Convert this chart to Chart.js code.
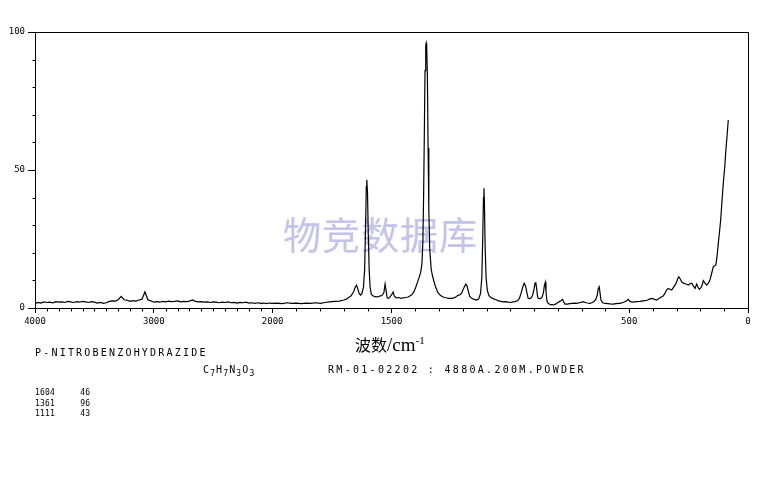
<!DOCTYPE html>
<html>
<head>
<meta charset="utf-8">
<title>P-NITROBENZOHYDRAZIDE Raman</title>
<script src="https://cdn.jsdelivr.net/npm/chart.js@4.4.1/dist/chart.umd.min.js"></script>
<style>
  html, body { margin: 0; padding: 0; background: #fff; }
  #wrap { position: relative; width: 761px; height: 477px; overflow: hidden; }
  #spectrum { position: absolute; left: 0; top: 0; }
  .mono { position: absolute; font-family: "DejaVu Sans Mono", monospace; color: #000; white-space: pre; }
  .watermark { position: absolute; left: 283px; top: 214px; font-family: "Noto Sans CJK SC", sans-serif;
    font-size: 38px; line-height: 38px; color: rgb(196, 196, 234); letter-spacing: 1px; white-space: nowrap; }
  .axis-title { position: absolute; left: 355px; top: 330px; color: #000; white-space: nowrap; line-height: 20px; }
  .axis-title .zh { font-family: "Noto Sans CJK SC", sans-serif; font-size: 16px; }
  .axis-title .en { font-family: "Liberation Serif", serif; font-size: 19px; }
  .axis-title sup { font-family: "Liberation Serif", serif; font-size: 11px; vertical-align: 7px; }
  .sub { font-size: 8px; vertical-align: -3px; letter-spacing: 1px; }
</style>
</head>
<body>
<div id="wrap">
  <div class="watermark">物竞数据库</div>
  <canvas id="spectrum" width="761" height="477"></canvas>
  <div class="axis-title"><span class="zh">波数</span><span class="en">/cm</span><sup>-1</sup></div>
  <div class="mono" style="left:35px; top:348px; font-size:10px; line-height:10px; letter-spacing:2.2px;">P-NITROBENZOHYDRAZIDE</div>
  <div class="mono" style="left:203px; top:365px; font-size:10px; line-height:10px; letter-spacing:1.2px;">C<span class="sub">7</span>H<span class="sub">7</span>N<span class="sub">3</span>O<span class="sub">3</span></div>
  <div class="mono" style="left:328px; top:365px; font-size:10px; line-height:10px; letter-spacing:2.3px;">RM-01-02202 : 4880A.200M.POWDER</div>
  <div class="mono" id="peaks" style="left:35px; top:388px; font-size:8px; line-height:10.5px; letter-spacing:0.2px;"></div>
</div>
<script>
// spectrum, 4000 - 2000 cm-1 (compressed half of the axis)
const highWaveNumbers = [
  4000,3975,3950,3925,3900,3875,3850,3825,3800,3775,
  3750,3725,3700,3675,3650,3625,3600,3575,3550,3525,
  3500,3475,3450,3425,3400,3375,3350,3325,3300,3275,
  3250,3225,3200,3175,3150,3125,3100,3075,3050,3025,
  3000,2975,2950,2925,2900,2875,2850,2825,2800,2775,
  2750,2725,2700,2675,2650,2625,2600,2575,2550,2525,
  2500,2475,2450,2425,2400,2375,2350,2325,2300,2275,
  2250,2225,2200,2175,2150,2125,2100,2075,2050,2025
];
const highIntensity = [
  1.6,2.0,1.8,2.2,2.0,2.1,1.9,2.3,2.1,2.2,
  2.0,2.4,2.2,2.0,2.3,2.1,2.4,2.2,2.0,2.3,
  2.1,1.8,2.0,1.7,1.9,2.4,2.6,2.5,3.0,4.2,
  3.0,2.8,2.4,2.7,2.5,2.9,3.2,5.8,3.0,2.6,
  2.1,2.3,2.1,2.4,2.2,2.5,2.3,2.4,2.6,2.2,
  2.4,2.3,2.5,2.9,2.4,2.2,2.3,2.1,2.2,2.0,
  2.2,2.1,1.9,2.1,2.0,2.2,1.9,2.0,1.8,2.0,
  1.9,2.1,1.8,1.9,1.7,1.9,1.7,1.8,1.6,1.8
];

// 2000 - 1010 cm-1
const midWaveNumbers = [
  2000,1980,1960,1940,1920,1900,1880,1860,1840,1820,
  1800,1780,1760,1740,1720,1700,1690,1680,1670,1660,
  1652,1647,1642,1636,1630,1625,1618,1613,1609,1606,
  1604,1601,1598,1594,1590,1585,1578,1570,1560,1550,
  1540,1532,1527,1523,1518,1512,1505,1498,1493,1488,
  1480,1470,1460,1450,1440,1430,1415,1405,1398,1392,
  1384,1377,1372,1368,1365,1362,1359,1356,1354,1352,
  1349,1346,1343,1339,1333,1327,1321,1314,1306,1295,
  1283,1270,1260,1250,1241,1230,1220,1212,1205,1196,
  1190,1187,1183,1178,1171,1162,1152,1142,1134,1128,
  1125,1120,1116,1113,1111,1109,1106,1102,1097,1090,
  1082,1072,1060,1050,1040,1030,1020,1010
];
const midIntensity = [
  1.7,1.8,1.6,1.9,1.7,1.8,1.6,1.8,1.7,1.9,
  1.7,2.0,2.2,2.4,2.5,2.9,3.2,3.8,4.4,5.8,
  7.6,8.3,7.0,5.2,4.7,5.2,7.5,14,30,44,
  46.5,42,28,14,7.5,5.0,4.4,4.1,4.0,4.3,
  4.5,5.6,8.7,6.5,3.6,3.5,4.2,5.0,5.8,4.3,
  3.7,3.8,3.5,3.7,3.8,4.0,4.8,6.0,7.5,9.0,
  11,13,16,24,40,62,86,95,96,95,
  84,58,36,21,14,11.5,9.5,7.5,5.8,4.6,
  4.0,3.7,3.5,3.5,3.6,4.0,4.6,4.8,5.4,7.2,
  8.3,8.6,8.2,6.5,4.2,3.5,3.1,2.9,3.2,4.5,
  5.5,11,26,40,43.4,38,22,11,6.5,4.5,
  3.8,3.4,3.0,2.6,2.4,2.2,2.3,2.1
];

// 1000 - 83 cm-1
const lowWaveNumbers = [
  1000,990,980,970,962,955,948,942,936,930,
  925,918,912,906,900,896,893,890,886,883,
  877,872,866,861,857,853,850,846,840,830,
  820,810,800,792,786,780,775,770,760,750,
  740,730,720,710,700,693,685,675,665,655,
  647,640,634,630,627,624,619,614,609,600,
  590,580,567,555,545,539,525,511,504,497,
  490,483,470,455,441,425,415,406,396,384,
  375,365,357,350,343,336,328,321,314,307,
  300,295,291,285,279,272,265,258,251,244,
  237,230,223,216,210,205,200,195,188,181,
  174,167,160,153,146,140,135,130,125,120,
  115,110,104,98,93,88,83
];
const lowIntensity = [
  2.0,2.2,2.3,2.6,3.5,5.3,7.5,9.0,8.0,5.5,
  3.5,3.4,3.7,4.7,7.0,9.0,9.3,7.5,4.5,3.5,
  3.4,3.5,4.0,5.5,8.0,9.3,6.0,2.5,1.6,1.2,
  1.1,1.4,2.0,2.4,2.7,3.1,2.2,1.4,1.4,1.6,
  1.7,1.8,1.7,1.9,2.1,2.3,2.0,1.8,1.7,2.0,
  2.4,3.2,4.8,7.0,8.1,6.5,3.0,2.2,1.8,1.7,
  1.6,1.5,1.4,1.6,1.7,1.7,2.0,2.6,3.1,2.4,
  2.2,2.1,2.3,2.4,2.6,2.8,3.2,3.5,3.2,2.9,
  3.4,4.0,4.3,5.2,6.5,7.1,6.8,6.5,7.4,8.3,
  9.5,10.8,11.3,10.5,9.5,9.0,8.8,8.6,8.3,8.8,
  9.0,8.0,7.1,8.7,7.5,6.8,7.2,7.7,9.9,9.0,
  8.3,9.0,10.1,12.5,15.0,15.3,15.6,19,23.4,27.5,
  31.9,38,45.2,51,57.2,62.5,68.1
];

const xTickLabels = [4000, 3000, 2000, 1500, 500, 0];
const yTickLabels = [0, 50, 100];
const peakWaveNumbers = [1604, 1361, 1111];
const peakIntensities = [46, 96, 43];

// above 2000 cm-1 the axis runs at half scale
const toAxis = wn => wn <= 2000 ? wn : 2000 + (wn - 2000) / 2;
const fromAxis = u => u <= 2000 ? u : 2000 + (u - 2000) * 2;

document.getElementById('peaks').textContent = peakWaveNumbers
  .map((wn, i) => String(wn).padEnd(9, ' ') + peakIntensities[i]).join('\n');

const waveNumbers = highWaveNumbers.concat(midWaveNumbers, lowWaveNumbers);
const intensity = highIntensity.concat(midIntensity, lowIntensity);
const points = waveNumbers.map((wn, i) => ({ x: toAxis(wn), y: intensity[i] }));

const frameAndMinorTicks = {
  id: 'frameAndMinorTicks',
  afterDraw(chart) {
    const { ctx, chartArea: a, scales: { x, y } } = chart;
    ctx.save();
    ctx.strokeStyle = '#000';
    ctx.lineWidth = 1;
    const L = Math.round(a.left) + 0.5, R = Math.round(a.right) + 0.5;
    const T = Math.round(a.top) + 0.5, B = Math.round(a.bottom) + 0.5;
    ctx.strokeRect(L, T, R - L, B - T);
    ctx.beginPath();
    for (let wn = 3900; wn > 0; wn -= 100) {
      if (xTickLabels.includes(wn)) continue;
      const px = Math.round(x.getPixelForValue(toAxis(wn))) + 0.5;
      ctx.moveTo(px, B); ctx.lineTo(px, B + 3);
    }
    for (let v = 10; v < 100; v += 10) {
      if (yTickLabels.includes(v)) continue;
      const py = Math.round(y.getPixelForValue(v)) + 0.5;
      ctx.moveTo(L, py); ctx.lineTo(L - 3, py);
    }
    ctx.stroke();
    ctx.restore();
  }
};

const tickFont = { family: 'DejaVu Sans Mono', size: 9 };

new Chart(document.getElementById('spectrum'), {
  type: 'line',
  data: {
    datasets: [{
      data: points,
      borderColor: '#000',
      borderWidth: 1.2,
      pointRadius: 0,
      tension: 0,
      fill: false
    }]
  },
  options: {
    responsive: false,
    animation: false,
    devicePixelRatio: 1,
    layout: { padding: { left: 0, right: 13, top: 32, bottom: 144 } },
    plugins: { legend: { display: false }, tooltip: { enabled: false } },
    scales: {
      x: {
        type: 'linear',
        reverse: true,
        min: 0,
        max: toAxis(4000),
        afterFit: s => { s.height = 25; },
        afterBuildTicks: s => { s.ticks = xTickLabels.map(wn => ({ value: toAxis(wn) })); },
        border: { display: false },
        grid: { drawOnChartArea: false, color: '#000', tickLength: 5 },
        ticks: {
          autoSkip: false, maxRotation: 0, padding: 3, color: '#000', font: tickFont,
          callback: v => String(Math.round(fromAxis(v)))
        }
      },
      y: {
        min: 0,
        max: 100,
        afterFit: s => { s.width = 35; },
        afterBuildTicks: s => { s.ticks = yTickLabels.map(v => ({ value: v })); },
        border: { display: false },
        grid: { drawOnChartArea: false, color: '#000', tickLength: 7 },
        ticks: { padding: 3, color: '#000', font: tickFont }
      }
    }
  },
  plugins: [frameAndMinorTicks]
});
</script>
</body>
</html>
